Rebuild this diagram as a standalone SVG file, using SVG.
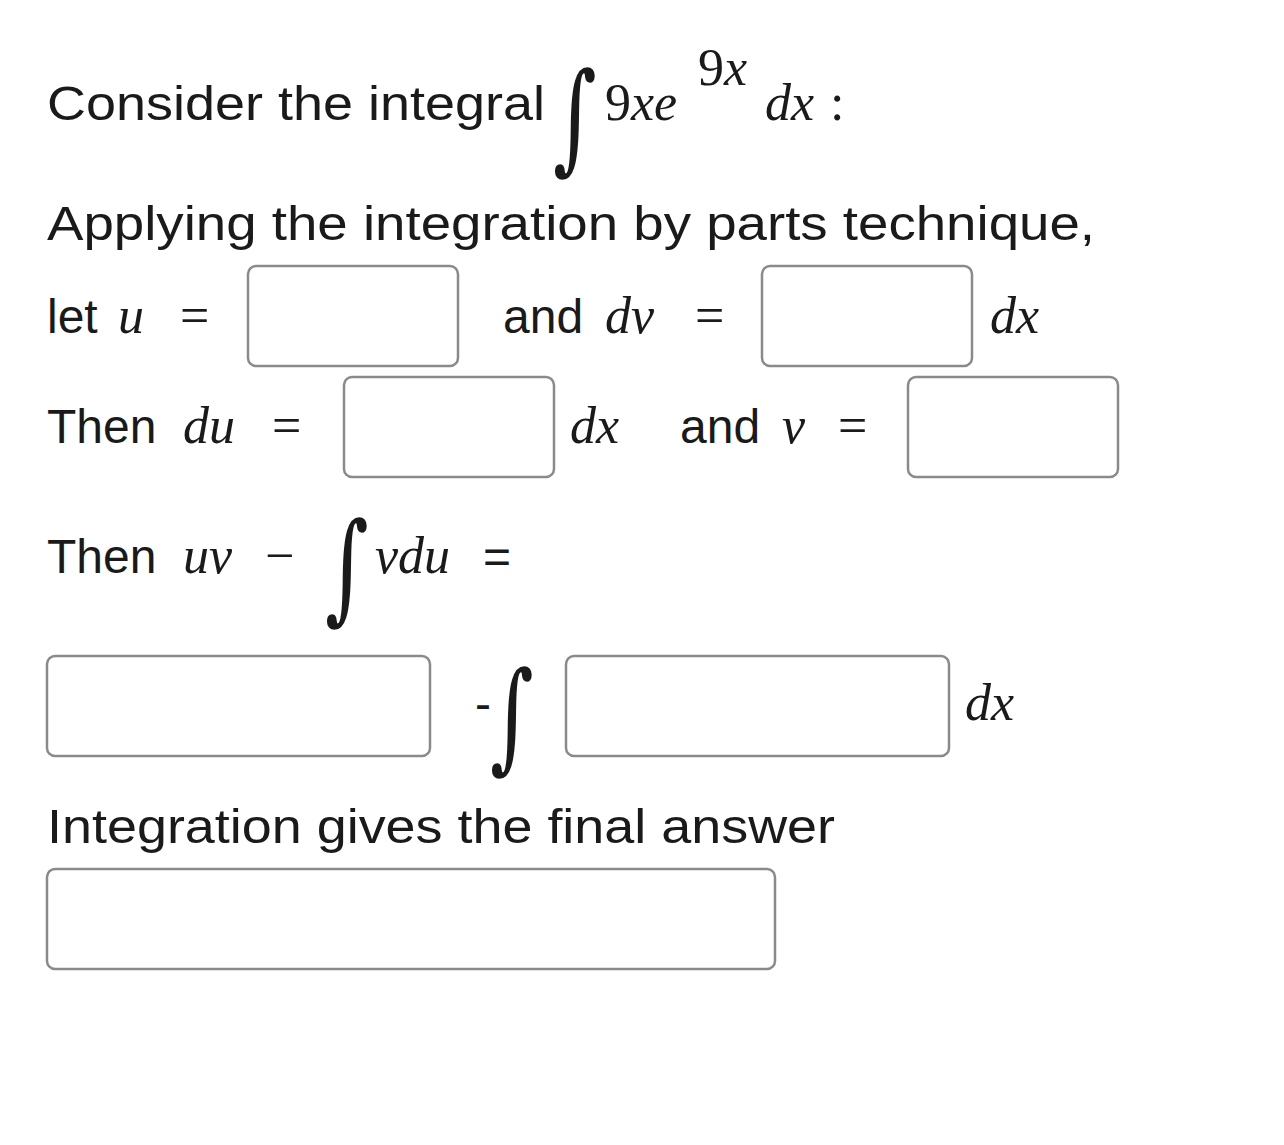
<svg xmlns="http://www.w3.org/2000/svg" width="1284" height="1145" viewBox="0 0 1284 1145">
<style>
.t{font-family:"Liberation Sans",Arial,sans-serif;font-size:48px;fill:#1a1a1a}
.m{font-family:"Liberation Serif","DejaVu Serif",serif;font-style:italic;font-size:52px;fill:#1a1a1a}
.r{font-family:"Liberation Serif","DejaVu Serif",serif;font-size:52px;fill:#1a1a1a}
.i{font-family:"DejaVu Serif",serif;font-style:italic;fill:#1a1a1a}
.b{fill:#fff;stroke:#8a8a8a;stroke-width:2.5}
</style>
<rect width="1284" height="1145" fill="#fff"/>
<text class="t" x="47" y="120" textLength="498" lengthAdjust="spacingAndGlyphs">Consider the integral</text>
<text class="i" x="553" y="158" font-size="120" transform="translate(553 158) scale(0.7 1) translate(-553 -158)">∫</text>
<text class="r" x="605" y="120">9<tspan font-style="italic">xe</tspan></text>
<text class="r" x="698" y="85" font-size="36">9<tspan font-style="italic">x</tspan></text>
<text class="m" x="765" y="120">dx</text><text class="r" x="830" y="120">:</text>
<text class="t" x="47" y="240" textLength="1048" lengthAdjust="spacingAndGlyphs">Applying the integration by parts technique,</text>
<text class="t" x="47" y="333">let</text><text class="m" x="118" y="333">u</text><text class="r" x="180" y="333">=</text>
<rect class="b" x="248" y="266" width="210" height="100" rx="8"/>
<text class="t" x="503" y="333">and</text><text class="m" x="605" y="333">dv</text><text class="r" x="695" y="333">=</text>
<rect class="b" x="762" y="266" width="210" height="100" rx="8"/>
<text class="m" x="990" y="333">dx</text>
<text class="t" x="47" y="443">Then</text><text class="m" x="183" y="443">du</text><text class="r" x="272" y="443">=</text>
<rect class="b" x="344" y="377" width="210" height="100" rx="8"/>
<text class="m" x="570" y="443">dx</text>
<text class="t" x="680" y="443">and</text><text class="m" x="782" y="443">v</text><text class="r" x="838" y="443">=</text>
<rect class="b" x="908" y="377" width="210" height="100" rx="8"/>
<text class="t" x="47" y="573">Then</text><text class="m" x="183" y="573">uv</text><text class="r" x="265" y="573">−</text>
<text class="i" x="325" y="608" font-size="120" transform="translate(325 608) scale(0.7 1) translate(-325 -608)">∫</text>
<text class="m" x="375" y="573">vdu</text><text class="t" x="483" y="573">=</text>
<rect class="b" x="47" y="656" width="383" height="100" rx="8"/>
<text class="t" x="475" y="720">-</text>
<text class="i" x="490" y="757" font-size="120" transform="translate(490 757) scale(0.7 1) translate(-490 -757)">∫</text>
<rect class="b" x="566" y="656" width="383" height="100" rx="8"/>
<text class="m" x="965" y="720">dx</text>
<text class="t" x="47" y="843" textLength="788" lengthAdjust="spacingAndGlyphs">Integration gives the final answer</text>
<rect class="b" x="47" y="869" width="728" height="100" rx="8"/>
</svg>
